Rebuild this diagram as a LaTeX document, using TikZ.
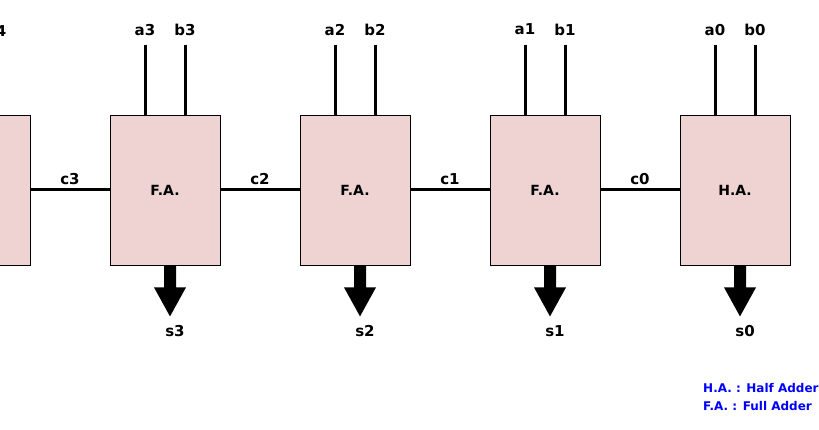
\documentclass[tikz,border=0pt]{standalone}
\usepackage{fontspec}
\setmainfont{DejaVu Sans}
\begin{document}
\begin{tikzpicture}[x=1pt,y=-1pt,
  box/.style={draw=black,line width=0.8pt,fill=boxpink,minimum width=110pt,minimum height=150pt,inner sep=0pt,font=\bfseries\fontsize{14}{16}\selectfont},
  wire/.style={line width=3pt},
  lbl/.style={font=\bfseries\fontsize{15}{17}\selectfont,inner sep=0pt},
  leg/.style={font=\bfseries\fontsize{12}{14}\selectfont,text=blue,inner sep=0pt,anchor=west}]
\definecolor{boxpink}{HTML}{EFD3D3}
\useasboundingbox (0,0) rectangle (819,430);
\node[box] (b4) at (-25,190) {};
\node[box] (b3) at (165,190) {F.A.};
\node[box] (b2) at (355,190) {F.A.};
\node[box] (b1) at (545,190) {F.A.};
\node[box] (b0) at (735,190) {H.A.};
\node[lbl] at (1,31) {4};
\foreach \n/\i in {b3/3,b2/2,b1/1,b0/0}{
  \path (\n.north) ++(-20,-70) coordinate (ta\i);
  \path (\n.north) ++(20,-70) coordinate (tb\i);
  \draw[wire] (ta\i) -- (ta\i |- \n.north);
  \draw[wire] (tb\i) -- (tb\i |- \n.north);
  \node[lbl] (la\i) at ([yshift=15]ta\i) {a\i};
  \node[lbl] (lb\i) at ([yshift=15]tb\i) {b\i};
  \fill ([xshift=-1]\n.south) -- ++(12,0) -- ++(0,22) -- ++(10,0) -- ++(-16,29) -- ++(-16,-29) -- ++(10,0) -- cycle;
  \node[lbl] (s\i) at ([xshift=10,yshift=-66]\n.south) {s\i};
}
\draw[wire] (b4.east) -- node[lbl,above=4pt] {c3} (b3.west);
\draw[wire] (b3.east) -- node[lbl,above=4pt] {c2} (b2.west);
\draw[wire] (b2.east) -- node[lbl,above=4pt] {c1} (b1.west);
\draw[wire] (b1.east) -- node[lbl,above=4pt] {c0} (b0.west);
\node[leg] (l1) at (703,388) {H.A. : Half Adder};
\node[leg] (l2) at (703,406) {F.A. : Full Adder};
\end{tikzpicture}
\end{document}
